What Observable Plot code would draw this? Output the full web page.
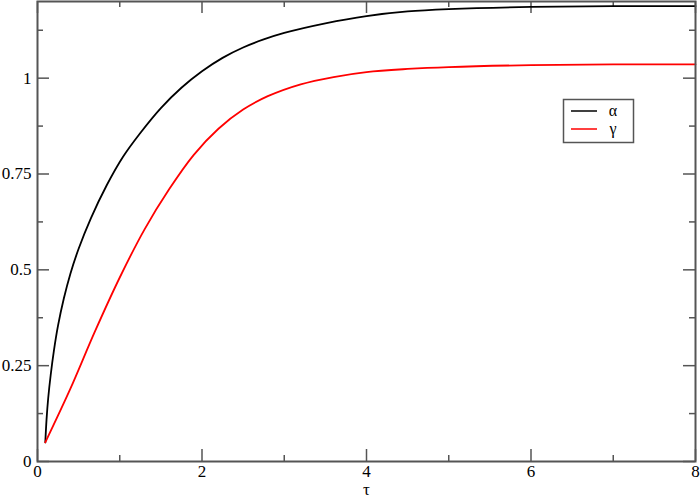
<!DOCTYPE html>
<html>
<head>
<meta charset="utf-8">
<script src="https://cdn.jsdelivr.net/npm/d3@7"></script>
<script src="https://cdn.jsdelivr.net/npm/@observablehq/plot@0.6"></script>
<style>
  html, body { margin: 0; padding: 0; background: #fff; }
  #chart { position: relative; width: 700px; height: 497px; }
</style>
</head>
<body>
<div id="chart"></div>
<script>
const seriesNames = ["α", "γ"];
const seriesColors = ["#000000", "#ff0000"];

const alphaX = [0.095, 0.11, 0.13, 0.16, 0.2, 0.25, 0.32, 0.4, 0.5, 0.65, 0.84, 1.04, 1.25, 1.5, 1.75, 2.0, 2.25, 2.5, 2.75, 3.0, 3.5, 4.0, 4.5, 5.0, 6.0, 7.0, 8.0];
const alphaY = [0.05, 0.11, 0.165, 0.225, 0.29, 0.355, 0.425, 0.49, 0.555, 0.635, 0.72, 0.795, 0.857, 0.922, 0.975, 1.018, 1.053, 1.08, 1.101, 1.118, 1.143, 1.162, 1.174, 1.18, 1.186, 1.188, 1.188];

const gammaX = [0.095, 0.4, 0.7, 1.0, 1.3, 1.6, 1.9, 2.2, 2.5, 2.8, 3.2, 3.6, 4.0, 4.5, 5.0, 6.0, 7.0, 8.0];
const gammaY = [0.05, 0.19, 0.34, 0.48, 0.605, 0.71, 0.80, 0.868, 0.918, 0.953, 0.984, 1.003, 1.016, 1.024, 1.029, 1.034, 1.036, 1.036];

const xMajor = [0, 2, 4, 6, 8];
const xMinor = [1, 3, 5, 7];
const yMajor = [0, 0.25, 0.5, 0.75, 1];
const yMinor = [0.125, 0.375, 0.625, 0.875, 1.125];
const yLabels = ["0", "0.25", "0.5", "0.75", "1"];
const xLabels = ["0", "2", "4", "6", "8"];
const xTitle = "τ";

const data = [
  ...alphaX.map((x, i) => ({series: seriesNames[0], x, y: alphaY[i]})),
  ...gammaX.map((x, i) => ({series: seriesNames[1], x, y: gammaY[i]}))
];

const W = 700, H = 497;
const mL = 37, mR = 5, mT = 1, mB = 36;
const innerW = W - mL - mR, innerH = H - mT - mB;
const major = 12, minor = 6;
const tickColor = "#555";
const font = "Liberation Serif, DejaVu Serif, serif";

const plot = Plot.plot({
  width: W,
  height: H,
  marginLeft: mL,
  marginRight: mR,
  marginTop: mT,
  marginBottom: mB,
  style: {fontFamily: font, fontSize: "17px", background: "#fff", color: "#000"},
  x: {domain: [0, 8]},
  y: {domain: [0, 1.2]},
  color: {domain: seriesNames, range: seriesColors},
  marks: [
    Plot.axisX(xMajor, {tickSize: 0, tickPadding: 3, tickFormat: (d, i) => xLabels[i], fontSize: 17, label: xTitle, labelAnchor: "center", labelArrow: "none", labelOffset: 33}),
    Plot.axisY(yMajor, {tickSize: 0, tickPadding: 6, tickFormat: (d, i) => yLabels[i], fontSize: 17, label: null}),
    Plot.tickX(xMajor, {x: d => d, stroke: tickColor, strokeWidth: 1.5, insetTop: innerH - major}),
    Plot.tickX(xMajor, {x: d => d, stroke: tickColor, strokeWidth: 1.5, insetBottom: innerH - major}),
    Plot.tickX(xMinor, {x: d => d, stroke: tickColor, strokeWidth: 1.5, insetTop: innerH - minor}),
    Plot.tickX(xMinor, {x: d => d, stroke: tickColor, strokeWidth: 1.5, insetBottom: innerH - minor}),
    Plot.tickY(yMajor, {y: d => d, stroke: tickColor, strokeWidth: 1.5, insetRight: innerW - major}),
    Plot.tickY(yMajor, {y: d => d, stroke: tickColor, strokeWidth: 1.5, insetLeft: innerW - major}),
    Plot.tickY(yMinor, {y: d => d, stroke: tickColor, strokeWidth: 1.5, insetRight: innerW - minor}),
    Plot.tickY(yMinor, {y: d => d, stroke: tickColor, strokeWidth: 1.5, insetLeft: innerW - minor}),
    Plot.line(data, {x: "x", y: "y", z: "series", stroke: "series", strokeWidth: 1.8, curve: "catmull-rom"}),
    Plot.frame({stroke: tickColor, strokeWidth: 2})
  ]
});

const svg = d3.select(plot);
svg.attr("font-family", font).attr("font-size", 17);
svg.selectAll("g").attr("font-family", font);
svg.selectAll("text")
  .attr("font-family", font)
  .style("font-family", font)
  .style("font-size", "17px");

// Legend inside plot area
const lg = svg.append("g").attr("class", "legend");
lg.append("rect")
  .attr("x", 563.5).attr("y", 99.5).attr("width", 70).attr("height", 43)
  .attr("fill", "#fff").attr("stroke", tickColor).attr("stroke-width", 1.5);
seriesNames.forEach((name, i) => {
  const yy = 111 + i * 18;
  lg.append("line")
    .attr("x1", 571).attr("x2", 597).attr("y1", yy).attr("y2", yy)
    .attr("stroke", seriesColors[i]).attr("stroke-width", 1.5);
  lg.append("text")
    .attr("x", 613).attr("y", yy).attr("dy", "0.3em")
    .style("font-family", font).style("font-size", "16px")
    .text(name);
});

document.getElementById("chart").appendChild(plot);
</script>
</body>
</html>
